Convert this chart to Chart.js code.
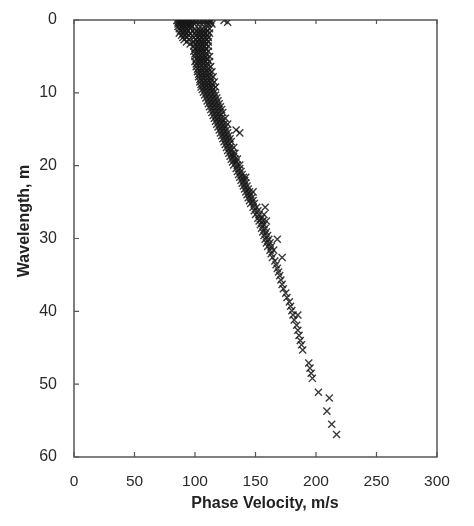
<!DOCTYPE html>
<html>
<head>
<meta charset="utf-8">
<script src="https://cdn.jsdelivr.net/npm/chart.js@4.4.0/dist/chart.umd.min.js"></script>
<style>
  html, body { margin: 0; padding: 0; background: #fff; }
</style>
</head>
<body>
<canvas id="graficoDispersion" width="474" height="526"></canvas>
<script>
// Ticks de los ejes
const ticksVelocidad = [0, 50, 100, 150, 200, 250, 300];
const ticksLongitud = [0, 10, 20, 30, 40, 50, 60];

// Longitud de onda (m) de cada fila de puntos
const longitudes = [
  0.05, 0.3, 0.55, 0.9, 1.2, 1.5, 1.8, 2.1, 2.4, 2.7, 3.0, 3.3,
  3.6, 3.95, 4.3, 4.65, 5.0, 5.35, 5.7, 6.05, 6.4, 6.75, 7.1, 7.45, 7.8,
  8.15, 8.5, 8.85, 9.2, 9.55, 9.9, 10.3, 10.7, 11.1, 11.5, 11.9, 12.3, 12.7,
  13.1, 13.5, 13.9, 14.3, 14.7, 15.1, 15.5, 15.9, 16.3, 16.7, 17.1, 17.5,
  17.9, 18.3, 18.7, 19.1, 19.5, 19.9, 20.4, 20.8, 21.2, 21.6, 22.0, 22.4,
  22.8, 23.2, 23.6, 24.0, 24.4, 24.8, 25.2, 25.7, 26.2, 26.7, 27.2, 27.6,
  28.1, 28.6, 29.1, 29.6, 30.1, 30.6, 31.1, 31.6, 32.1, 32.6, 33.1, 33.6,
  34.1, 34.6, 35.1, 35.7, 36.3, 36.9, 37.5, 38.1, 38.7, 39.3, 39.9, 40.5,
  41.2, 41.9, 42.6, 43.3, 44.0, 44.6, 45.3, 47.1, 47.8, 48.5, 49.2, 51.1,
  51.9, 53.7, 55.5, 56.9
];

// Velocidades de fase (m/s) medidas en cada longitud de onda
const velocidades = [
  [85, 87, 89, 91, 93, 95, 97, 99, 101, 103, 105, 107, 109, 111, 113, 124],
  [86, 88, 90, 92, 94, 96, 98, 101, 104, 107, 110, 113, 127],
  [86, 88, 90, 92, 94, 96, 111, 114],
  [86, 89, 92, 95, 97],
  [87, 90, 93, 96, 100, 103, 106, 109, 112],
  [88, 91, 94, 101, 104, 107, 110],
  [87, 90, 93, 96, 100, 103, 106, 109, 112],
  [89, 92, 95, 101, 104, 107, 110],
  [90, 93, 99, 102, 105, 108, 111],
  [91, 95, 101, 104, 107, 110],
  [93, 99, 102, 105, 108, 111],
  [96, 100, 103, 106, 109],
  [99, 102, 105, 108, 111],
  [100, 103, 106, 109],
  [99, 102, 105, 108, 111],
  [100, 103, 106, 109],
  [100, 103, 106, 109, 112],
  [101, 104, 107, 110],
  [100, 103, 106, 109, 112],
  [101, 104, 107, 110],
  [101, 104, 107, 110, 113],
  [102, 105, 108, 111],
  [102, 105, 108, 111, 114],
  [103, 106, 109, 112],
  [103, 106, 109, 112, 115],
  [104, 107, 110, 113],
  [104, 107, 110, 113, 116],
  [105, 108, 111, 114],
  [105, 108, 111, 114, 117],
  [106, 109, 112, 115],
  [107, 110, 113, 116],
  [108, 111, 114, 117],
  [109, 112, 115, 118],
  [110, 113, 116, 119],
  [111, 114, 117, 120],
  [112, 115, 118, 121],
  [113, 116, 119, 122],
  [114, 117, 120, 123],
  [115, 118, 121],
  [116, 119, 122, 125],
  [117, 120, 123],
  [118, 121, 124, 127],
  [119, 122, 125],
  [120, 123, 126, 134],
  [121, 124, 127, 137],
  [122, 125, 128],
  [123, 126, 129],
  [124, 127, 130],
  [125, 128],
  [126, 129, 132],
  [127, 130],
  [128, 131, 133],
  [129, 132],
  [130, 133, 135],
  [131, 134],
  [132, 135, 137],
  [134, 137],
  [135, 138],
  [136, 139],
  [137, 140, 142],
  [138, 141],
  [139, 142],
  [140, 143],
  [141, 144],
  [142, 145, 148],
  [143, 146],
  [144, 147],
  [145, 148],
  [146, 149],
  [148, 151, 158],
  [149, 152],
  [150, 153, 157],
  [152, 155],
  [153, 156, 159],
  [154, 157],
  [155, 158],
  [156, 159],
  [157, 160],
  [158, 161, 168],
  [159, 162],
  [160, 163],
  [162, 165],
  [163],
  [164, 172],
  [166],
  [167],
  [168],
  [169],
  [170],
  [171],
  [172],
  [173],
  [175],
  [176],
  [178],
  [179],
  [180],
  [181, 185],
  [182],
  [184],
  [185],
  [186],
  [187],
  [188],
  [189],
  [194],
  [195],
  [196],
  [197],
  [202],
  [211],
  [209],
  [213],
  [217]
];

const puntos = [];
longitudes.forEach((l, i) => {
  velocidades[i].forEach(v => puntos.push({ x: v, y: l }));
});

const fuente = 'Liberation Sans, Arial, sans-serif';

// Marco del gráfico con ticks hacia adentro
const marco = {
  id: 'marco',
  beforeDatasetsDraw(chart) {
    const { ctx, chartArea: a, scales } = chart;
    ctx.save();
    ctx.strokeStyle = '#555';
    ctx.lineWidth = 1.5;
    ctx.strokeRect(a.left, a.top, a.right - a.left, a.bottom - a.top);
    ctx.lineWidth = 1.2;
    ctx.beginPath();
    scales.x.ticks.forEach(t => {
      const px = scales.x.getPixelForValue(t.value);
      ctx.moveTo(px, a.bottom);
      ctx.lineTo(px, a.bottom - 5);
      ctx.moveTo(px, a.top);
      ctx.lineTo(px, a.top + 4);
    });
    scales.y.ticks.forEach(t => {
      const py = scales.y.getPixelForValue(t.value);
      ctx.moveTo(a.left, py);
      ctx.lineTo(a.left + 5, py);
    });
    ctx.stroke();
    ctx.restore();
  },
  afterDraw(chart) {
    // titulos de los ejes
    const ctx = chart.ctx;
    ctx.save();
    ctx.fillStyle = '#222';
    ctx.font = 'bold 16px ' + fuente;
    ctx.textAlign = 'center';
    ctx.textBaseline = 'middle';
    ctx.fillText('Phase Velocity, m/s', 265, 504);
    ctx.translate(25, 221);
    ctx.rotate(-Math.PI / 2);
    ctx.fillText('Wavelength, m', 0, 0);
    ctx.restore();
  }
};

const ctx = document.getElementById('graficoDispersion').getContext('2d');
const myChart = new Chart(ctx, {
  type: 'scatter',
  data: {
    datasets: [{
      label: 'Phase Velocity',
      data: puntos,
      pointStyle: 'crossRot',
      pointRadius: 5,
      pointHoverRadius: 5,
      borderWidth: 1.4,
      borderColor: 'rgba(25, 25, 25, 0.85)',
      backgroundColor: 'rgba(25, 25, 25, 0.85)',
    }],
  },
  options: {
    responsive: false,
    animation: false,
    layout: { padding: { top: 20, right: 37, left: 0, bottom: 0 } },
    plugins: {
      legend: { display: false },
      tooltip: { enabled: false },
    },
    scales: {
      x: {
        type: 'linear',
        min: 0,
        max: 300,
        afterBuildTicks: s => { s.ticks = ticksVelocidad.map(v => ({ value: v })); },
        afterFit: s => { s.height = 69; },
        grid: { display: false },
        border: { display: false },
        ticks: { color: '#2a2a2a', font: { family: fuente, size: 15.5 }, padding: 7, maxRotation: 0 },
      },
      y: {
        type: 'linear',
        reverse: true,
        min: 0,
        max: 60,
        afterBuildTicks: s => { s.ticks = ticksLongitud.map(v => ({ value: v })); },
        afterFit: s => { s.width = 74; },
        grid: { display: false },
        border: { display: false },
        ticks: { color: '#2a2a2a', font: { family: fuente, size: 16 }, padding: 9 },
      },
    },
  },
  plugins: [marco],
});
</script>
</body>
</html>
